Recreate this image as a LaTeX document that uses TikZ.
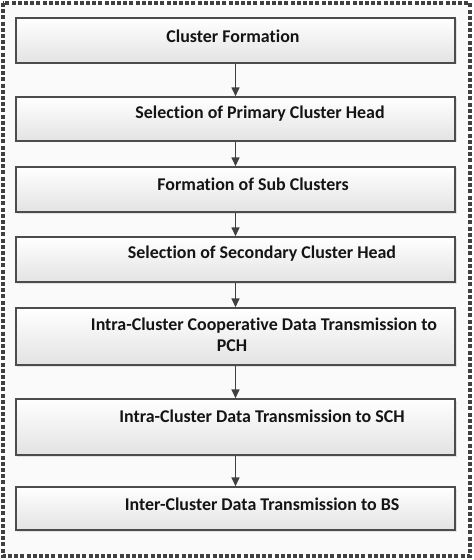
\documentclass[tikz,border=0pt]{standalone}
\usepackage{fontspec}
\setmainfont{Carlito}[Ligatures={NoCommon}]
\usetikzlibrary{arrows.meta,shadows}

\tikzset{
	stepbox/.style={shape=rectangle, draw=black!70, line width=1.4bp, top color=white, bottom color=black!11, minimum width=439bp, inner sep=0pt, drop shadow={shadow xshift=1.5bp, shadow yshift=-1.5bp, opacity=0.25, fill=black!40}},
	steptext/.style={font=\bfseries\fontsize{18}{21}\selectfont, text=black!92, inner sep=0pt},
	flow/.style={-{Triangle[width=8bp,length=9bp]}, draw=black!75, line width=1.5bp},
}

\begin{document}
\begin{tikzpicture}[x=1bp, y=-1bp]
				% Frame and background:
				\useasboundingbox (0, 0) rectangle (474, 560);
				\draw[dash pattern=on 4bp off 2.2bp, line width=3.5bp, draw=black!75, fill=black!2] (3, 3) rectangle (470, 556);
				% Steps:
				\node[stepbox, minimum height=45bp](B1) at (235.5, 40.5){};
				\node[stepbox, minimum height=44bp](B2) at (235.5, 119){};
				\node[stepbox, minimum height=45bp](B3) at (235.5, 189.5){};
				\node[stepbox, minimum height=45bp](B4) at (235.5, 259.5){};
				\node[stepbox, minimum height=57bp](B5) at (235.5, 336.5){};
				\node[stepbox, minimum height=56bp](B6) at (235.5, 427){};
				\node[stepbox, minimum height=43bp](B7) at (235.5, 508.5){};
				% Labels:
				\node[steptext](T1) at (233, 36){Cluster Formation};
				\node[steptext](T2) at (260, 114){Selection of Primary Cluster Head};
				\node[steptext](T3) at (253, 184.5){Formation of Sub Clusters};
				\node[steptext](T4) at (262, 254){Selection of Secondary Cluster Head};
				\node[steptext](T5a) at (264, 326){Intra-Cluster Cooperative Data Transmission to};
				\node[steptext](T5b) at (232, 346){PCH};
				\node[steptext](T6) at (262, 416){Intra-Cluster Data Transmission to SCH};
				\node[steptext](T7) at (262, 504){Inter-Cluster Data Transmission to BS};
				% Arrows:
				\draw[flow] (B1.south) -- (B2.north);
				\draw[flow] (B2.south) -- (B3.north);
				\draw[flow] (B3.south) -- (B4.north);
				\draw[flow] (B4.south) -- (B5.north);
				\draw[flow] (B5.south) -- (B6.north);
				\draw[flow] (B6.south) -- (B7.north);
\end{tikzpicture}
\end{document}
